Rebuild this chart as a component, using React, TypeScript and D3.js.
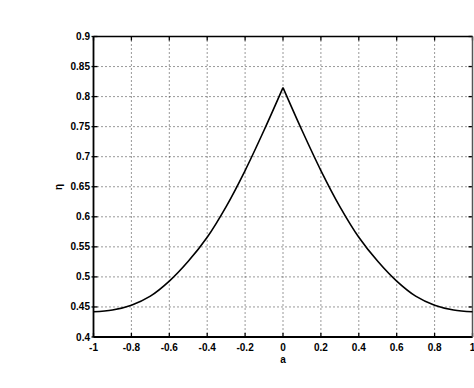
import React from "react";
import * as d3 from "d3";

const aValues = [-1, -0.9, -0.8, -0.7, -0.6, -0.5, -0.4, -0.3, -0.2, -0.1, 0, 0.1, 0.2, 0.3, 0.4, 0.5, 0.6, 0.7, 0.8, 0.9, 1];
const etaValues = [0.442, 0.445, 0.453, 0.468, 0.493, 0.526, 0.566, 0.617, 0.677, 0.744, 0.815, 0.744, 0.677, 0.617, 0.566, 0.526, 0.493, 0.468, 0.453, 0.445, 0.442];
const xTicks = [-1, -0.8, -0.6, -0.4, -0.2, 0, 0.2, 0.4, 0.6, 0.8, 1];
const xTickLabels = ["-1", "-0.8", "-0.6", "-0.4", "-0.2", "0", "0.2", "0.4", "0.6", "0.8", "1"];
const yTicks = [0.4, 0.45, 0.5, 0.55, 0.6, 0.65, 0.7, 0.75, 0.8, 0.85, 0.9];
const yTickLabels = ["0.4", "0.45", "0.5", "0.55", "0.6", "0.65", "0.7", "0.75", "0.8", "0.85", "0.9"];
const xLabel = "a";
const yLabel = "η";

const L = 93.5, R = 472.5, T = 36.5, B = 337;

export default function App() {
  const x = d3.scaleLinear().domain([-1, 1]).range([L, R]);
  const y = d3.scaleLinear().domain([0.4, 0.9]).range([B, T]);
  const pts = aValues.map((a, i) => [a, etaValues[i]] as [number, number]);
  const left = pts.filter((p) => p[0] <= 0);
  const right = pts.filter((p) => p[0] >= 0);
  const line = d3
    .line<[number, number]>()
    .x((d) => x(d[0]))
    .y((d) => y(d[1]))
    .curve(d3.curveCatmullRom.alpha(0.5));
  const font = "'Liberation Sans', Arial, Helvetica, sans-serif";
  return (
    <svg
      width={474}
      height={388}
      style={{ position: "absolute", left: 0, top: 0, background: "#fff" }}
      fontFamily={font}
    >
      <rect x={0} y={0} width={474} height={388} fill="#fff" />
      {xTicks.slice(1, -1).map((t) => (
        <line key={"gx" + t} x1={x(t)} x2={x(t)} y1={T} y2={B} stroke="#333" strokeWidth={1} strokeDasharray="1,3" />
      ))}
      {yTicks.slice(1, -1).map((t) => (
        <line key={"gy" + t} x1={L} x2={R} y1={y(t)} y2={y(t)} stroke="#333" strokeWidth={1} strokeDasharray="1,3" />
      ))}
      {xTicks.map((t) => (
        <g key={"tx" + t}>
          <line x1={x(t)} x2={x(t)} y1={B} y2={B - 4} stroke="#000" strokeWidth={1.3} />
          <line x1={x(t)} x2={x(t)} y1={T} y2={T + 4} stroke="#000" strokeWidth={1.3} />
        </g>
      ))}
      {yTicks.map((t) => (
        <g key={"ty" + t}>
          <line x1={L - 2} x2={L + 4} y1={y(t)} y2={y(t)} stroke="#000" strokeWidth={1.3} />
          <line x1={R} x2={R - 4} y1={y(t)} y2={y(t)} stroke="#000" strokeWidth={1.3} />
        </g>
      ))}
      <line x1={L} x2={L} y1={T} y2={B} stroke="#000" strokeWidth={1.8} />
      <line x1={L} x2={R} y1={B} y2={B} stroke="#000" strokeWidth={1.8} />
      <line x1={L} x2={R} y1={T} y2={T} stroke="#000" strokeWidth={1.5} />
      <line x1={R} x2={R} y1={T} y2={B} stroke="#555" strokeWidth={1.5} />
      <path d={line(left) || ""} fill="none" stroke="#000" strokeWidth={1.6} />
      <path d={line(right) || ""} fill="none" stroke="#000" strokeWidth={1.6} />
      {xTicks.map((t, i) => (
        <text key={"lx" + t} x={x(t)} y={351} textAnchor="middle" fontSize={10} fontWeight="bold" fill="#000">
          {xTickLabels[i]}
        </text>
      ))}
      {yTicks.map((t, i) => (
        <text key={"ly" + t} x={90} y={y(t) + 3.5} textAnchor="end" fontSize={10} fontWeight="bold" fill="#000">
          {yTickLabels[i]}
        </text>
      ))}
      <text x={x(0)} y={363} textAnchor="middle" fontSize={10} fontWeight="bold" fill="#000">
        {xLabel}
      </text>
      <text transform="translate(62,187) rotate(-90)" textAnchor="middle" fontSize={10} fontWeight="bold" fill="#000">
        {yLabel}
      </text>
    </svg>
  );
}
